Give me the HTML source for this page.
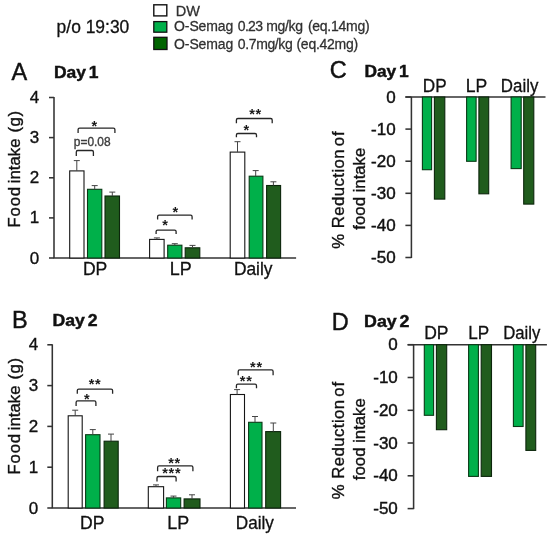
<!DOCTYPE html>
<html><head><meta charset="utf-8"><title>Food intake</title>
<style>
html,body{margin:0;padding:0;background:#fff;}
svg{display:block;font-family:"Liberation Sans",Arial,sans-serif;filter:blur(0.35px);}
</style></head><body>
<svg width="550" height="536" viewBox="0 0 550 536">
<rect width="550" height="536" fill="#fff"/>
<text x="56.6" y="32.9" font-size="18" text-anchor="start" fill="#111" stroke="#111" stroke-width="0.3" textLength="72.7" lengthAdjust="spacingAndGlyphs" >p/o 19:30</text>
<rect x="153.8" y="4.8" width="13" height="11.1" fill="#fff" stroke="#111" stroke-width="1.4"/>
<rect x="153.8" y="21.6" width="13" height="10.6" fill="#00b04a" stroke="#111" stroke-width="1.3"/>
<rect x="153.8" y="37.3" width="13.2" height="12.2" fill="#006400" stroke="#111" stroke-width="1.3"/>
<text x="175.8" y="15.7" font-size="14.5" text-anchor="start" fill="#303030" stroke="#303030" stroke-width="0.28" textLength="24.2" lengthAdjust="spacingAndGlyphs" >DW</text>
<text y="30.6" font-size="14" fill="#303030" stroke="#303030" stroke-width="0.28"><tspan x="174.09" letter-spacing="-0.124">O-Semag</tspan> <tspan x="237.8" letter-spacing="-0.695">0.23</tspan> <tspan x="266.32" letter-spacing="-0.373">mg/kg</tspan> <tspan x="307.88" letter-spacing="-0.246">(eq.14mg)</tspan></text>
<text y="48.7" font-size="14" fill="#303030" stroke="#303030" stroke-width="0.28"><tspan x="174.09" letter-spacing="-0.124">O-Semag</tspan> <tspan x="237.8" letter-spacing="-0.377">0.7mg/kg</tspan> <tspan x="296.48" letter-spacing="-0.259">(eq.42mg)</tspan></text>
<text x="11.5" y="80.1" font-size="23.5" text-anchor="start" fill="#111" stroke="#111" stroke-width="0.45" >A</text>
<text x="54" y="77.5" font-size="17" text-anchor="start" fill="#111" stroke="#111" stroke-width="0.45" font-weight="bold" textLength="44.5" lengthAdjust="spacingAndGlyphs" word-spacing="-2">Day 1</text>
<text x="12.0" y="328.0" font-size="23.5" text-anchor="start" fill="#111" stroke="#111" stroke-width="0.45" >B</text>
<text x="52.5" y="326.1" font-size="17" text-anchor="start" fill="#111" stroke="#111" stroke-width="0.45" font-weight="bold" textLength="45" lengthAdjust="spacingAndGlyphs" word-spacing="-2">Day 2</text>
<text x="329.8" y="78.3" font-size="23.5" text-anchor="start" fill="#111" stroke="#111" stroke-width="0.45" >C</text>
<text x="364.4" y="76.9" font-size="17" text-anchor="start" fill="#111" stroke="#111" stroke-width="0.45" font-weight="bold" textLength="44.3" lengthAdjust="spacingAndGlyphs" word-spacing="-2">Day 1</text>
<text x="331.8" y="330.3" font-size="23.5" text-anchor="start" fill="#111" stroke="#111" stroke-width="0.45" >D</text>
<text x="364" y="327.3" font-size="17" text-anchor="start" fill="#111" stroke="#111" stroke-width="0.45" font-weight="bold" textLength="45.5" lengthAdjust="spacingAndGlyphs" word-spacing="-2">Day 2</text>
<line x1="54.0" y1="97.0" x2="54.0" y2="258.0" stroke="#333" stroke-width="1.55"/>
<line x1="53.5" y1="258.0" x2="296.1" y2="258.0" stroke="#333" stroke-width="1.55"/>
<line x1="49.0" y1="258.0" x2="54.0" y2="258.0" stroke="#333" stroke-width="1.55"/>
<text x="39.2" y="263.5" font-size="17" text-anchor="end" fill="#111" stroke="#111" stroke-width="0.35" >0</text>
<line x1="49.0" y1="217.9" x2="54.0" y2="217.9" stroke="#333" stroke-width="1.55"/>
<text x="39.2" y="223.4" font-size="17" text-anchor="end" fill="#111" stroke="#111" stroke-width="0.35" >1</text>
<line x1="49.0" y1="177.8" x2="54.0" y2="177.8" stroke="#333" stroke-width="1.55"/>
<text x="39.2" y="183.3" font-size="17" text-anchor="end" fill="#111" stroke="#111" stroke-width="0.35" >2</text>
<line x1="49.0" y1="137.6" x2="54.0" y2="137.6" stroke="#333" stroke-width="1.55"/>
<text x="39.2" y="143.1" font-size="17" text-anchor="end" fill="#111" stroke="#111" stroke-width="0.35" >3</text>
<line x1="49.0" y1="97.5" x2="54.0" y2="97.5" stroke="#333" stroke-width="1.55"/>
<text x="39.2" y="103.0" font-size="17" text-anchor="end" fill="#111" stroke="#111" stroke-width="0.35" >4</text>
<rect x="69.7" y="170.9" width="14.3" height="87.1" fill="#ffffff" stroke="#151515" stroke-width="1.1"/>
<rect x="87.5" y="189.3" width="14.3" height="68.7" fill="#00b04a" stroke="#0a3a16" stroke-width="1.1"/>
<rect x="105.0" y="196.0" width="14.5" height="62.0" fill="#205c1d" stroke="#0c260c" stroke-width="1.1"/>
<rect x="149.6" y="239.4" width="14.5" height="18.6" fill="#ffffff" stroke="#151515" stroke-width="1.1"/>
<rect x="167.7" y="245.2" width="14.2" height="12.8" fill="#00b04a" stroke="#0a3a16" stroke-width="1.1"/>
<rect x="185.2" y="247.8" width="14.6" height="10.2" fill="#205c1d" stroke="#0c260c" stroke-width="1.1"/>
<rect x="230.2" y="152.1" width="14.6" height="105.9" fill="#ffffff" stroke="#151515" stroke-width="1.1"/>
<rect x="249.2" y="176.2" width="13.7" height="81.8" fill="#00b04a" stroke="#0a3a16" stroke-width="1.1"/>
<rect x="266.6" y="185.5" width="14.0" height="72.5" fill="#205c1d" stroke="#0c260c" stroke-width="1.1"/>
<line x1="76.8" y1="160.6" x2="76.8" y2="170.9" stroke="#444" stroke-width="1.0"/>
<line x1="73.8" y1="160.6" x2="79.8" y2="160.6" stroke="#444" stroke-width="1.0"/>
<line x1="94.7" y1="185.6" x2="94.7" y2="189.3" stroke="#444" stroke-width="1.0"/>
<line x1="91.7" y1="185.6" x2="97.7" y2="185.6" stroke="#444" stroke-width="1.0"/>
<line x1="112.3" y1="192.1" x2="112.3" y2="196.0" stroke="#444" stroke-width="1.0"/>
<line x1="109.3" y1="192.1" x2="115.3" y2="192.1" stroke="#444" stroke-width="1.0"/>
<line x1="156.9" y1="237.9" x2="156.9" y2="239.4" stroke="#444" stroke-width="1.0"/>
<line x1="153.9" y1="237.9" x2="159.9" y2="237.9" stroke="#444" stroke-width="1.0"/>
<line x1="174.8" y1="243.7" x2="174.8" y2="245.2" stroke="#444" stroke-width="1.0"/>
<line x1="171.8" y1="243.7" x2="177.8" y2="243.7" stroke="#444" stroke-width="1.0"/>
<line x1="192.5" y1="245.4" x2="192.5" y2="247.8" stroke="#444" stroke-width="1.0"/>
<line x1="189.5" y1="245.4" x2="195.5" y2="245.4" stroke="#444" stroke-width="1.0"/>
<line x1="237.5" y1="141.7" x2="237.5" y2="152.1" stroke="#444" stroke-width="1.0"/>
<line x1="234.5" y1="141.7" x2="240.5" y2="141.7" stroke="#444" stroke-width="1.0"/>
<line x1="255.7" y1="170.6" x2="255.7" y2="176.2" stroke="#444" stroke-width="1.0"/>
<line x1="252.7" y1="170.6" x2="258.7" y2="170.6" stroke="#444" stroke-width="1.0"/>
<line x1="273.4" y1="181.8" x2="273.4" y2="185.5" stroke="#444" stroke-width="1.0"/>
<line x1="270.4" y1="181.8" x2="276.4" y2="181.8" stroke="#444" stroke-width="1.0"/>
<text x="95.10000000000001" y="274.8" font-size="17.8" text-anchor="middle" fill="#111" stroke="#111" stroke-width="0.3" textLength="24.400000000000002" lengthAdjust="spacingAndGlyphs" >DP</text>
<text x="180.7" y="274.90000000000003" font-size="17.8" text-anchor="middle" fill="#111" stroke="#111" stroke-width="0.3" textLength="21.900000000000002" lengthAdjust="spacingAndGlyphs" >LP</text>
<text x="253.2" y="274.6" font-size="17.8" text-anchor="middle" fill="#111" stroke="#111" stroke-width="0.3" textLength="38.6" lengthAdjust="spacingAndGlyphs" >Daily</text>
<text y="0" transform="translate(20.3 0) rotate(-90)" font-size="16.8" fill="#111" stroke="#111" stroke-width="0.35"><tspan x="-227.43" letter-spacing="0.756">Food</tspan> <tspan x="-183.17" letter-spacing="-0.032">intake</tspan> <tspan x="-132.49" letter-spacing="0.476">(g)</tspan></text>
<path d="M76.3 155.9 V152.0 Q76.3 150.5 77.8 150.5 H91.9 Q93.4 150.5 93.4 152.0 V155.9" fill="none" stroke="#262626" stroke-width="1.3"/>
<path d="M78.1 132.9 V129.6 Q78.1 128.1 79.6 128.1 H113.4 Q114.9 128.1 114.9 129.6 V132.9" fill="none" stroke="#262626" stroke-width="1.3"/>
<text x="92.2" y="146.2" font-size="12" text-anchor="middle" fill="#3c3c3c" stroke="#3c3c3c" stroke-width="0.35" textLength="36.8" lengthAdjust="spacingAndGlyphs" >p=0.08</text>
<text x="94.8" y="130.6" font-size="14.5" text-anchor="middle" fill="#1a1a1a" stroke="#1a1a1a" stroke-width="0" font-weight="bold" letter-spacing="0.8">*</text>
<path d="M156.1 234.0 V231.6 Q156.1 230.1 157.6 230.1 H174.6 Q176.1 230.1 176.1 231.6 V234.0" fill="none" stroke="#262626" stroke-width="1.3"/>
<path d="M157.6 219.6 V216.7 Q157.6 215.2 159.1 215.2 H190.6 Q192.1 215.2 192.1 216.7 V219.6" fill="none" stroke="#262626" stroke-width="1.3"/>
<text x="165.4" y="229.9" font-size="14.5" text-anchor="middle" fill="#1a1a1a" stroke="#1a1a1a" stroke-width="0" font-weight="bold" letter-spacing="0.8">*</text>
<text x="175.7" y="217.3" font-size="14.5" text-anchor="middle" fill="#1a1a1a" stroke="#1a1a1a" stroke-width="0" font-weight="bold" letter-spacing="0.8">*</text>
<path d="M236.4 137.3 V135.0 Q236.4 133.5 237.9 133.5 H255.0 Q256.5 133.5 256.5 135.0 V137.3" fill="none" stroke="#262626" stroke-width="1.3"/>
<path d="M236.4 123.3 V120.0 Q236.4 118.5 237.9 118.5 H270.7 Q272.2 118.5 272.2 120.0 V123.3" fill="none" stroke="#262626" stroke-width="1.3"/>
<text x="246.7" y="135.2" font-size="14.5" text-anchor="middle" fill="#1a1a1a" stroke="#1a1a1a" stroke-width="0" font-weight="bold" letter-spacing="0.8">*</text>
<text x="255.6" y="119.1" font-size="14.5" text-anchor="middle" fill="#1a1a1a" stroke="#1a1a1a" stroke-width="0" font-weight="bold" letter-spacing="0.8">**</text>
<line x1="52.3" y1="344.3" x2="52.3" y2="508.0" stroke="#333" stroke-width="1.55"/>
<line x1="51.8" y1="508.0" x2="296.0" y2="508.0" stroke="#333" stroke-width="1.55"/>
<line x1="47.3" y1="508.0" x2="52.3" y2="508.0" stroke="#333" stroke-width="1.55"/>
<text x="38.3" y="513.5" font-size="17" text-anchor="end" fill="#111" stroke="#111" stroke-width="0.35" >0</text>
<line x1="47.3" y1="467.2" x2="52.3" y2="467.2" stroke="#333" stroke-width="1.55"/>
<text x="38.3" y="472.7" font-size="17" text-anchor="end" fill="#111" stroke="#111" stroke-width="0.35" >1</text>
<line x1="47.3" y1="426.4" x2="52.3" y2="426.4" stroke="#333" stroke-width="1.55"/>
<text x="38.3" y="431.9" font-size="17" text-anchor="end" fill="#111" stroke="#111" stroke-width="0.35" >2</text>
<line x1="47.3" y1="385.6" x2="52.3" y2="385.6" stroke="#333" stroke-width="1.55"/>
<text x="38.3" y="391.1" font-size="17" text-anchor="end" fill="#111" stroke="#111" stroke-width="0.35" >3</text>
<line x1="47.3" y1="344.8" x2="52.3" y2="344.8" stroke="#333" stroke-width="1.55"/>
<text x="38.3" y="350.3" font-size="17" text-anchor="end" fill="#111" stroke="#111" stroke-width="0.35" >4</text>
<rect x="68.2" y="415.8" width="14.0" height="92.2" fill="#ffffff" stroke="#151515" stroke-width="1.1"/>
<rect x="85.6" y="434.7" width="14.4" height="73.3" fill="#00b04a" stroke="#0a3a16" stroke-width="1.1"/>
<rect x="104.1" y="441.2" width="14.1" height="66.8" fill="#205c1d" stroke="#0c260c" stroke-width="1.1"/>
<rect x="148.3" y="486.7" width="15.3" height="21.3" fill="#ffffff" stroke="#151515" stroke-width="1.1"/>
<rect x="166.4" y="497.9" width="14.3" height="10.1" fill="#00b04a" stroke="#0a3a16" stroke-width="1.1"/>
<rect x="184.1" y="498.9" width="15.9" height="9.1" fill="#205c1d" stroke="#0c260c" stroke-width="1.1"/>
<rect x="230.4" y="394.5" width="14.1" height="113.5" fill="#ffffff" stroke="#151515" stroke-width="1.1"/>
<rect x="248.6" y="422.3" width="13.4" height="85.7" fill="#00b04a" stroke="#0a3a16" stroke-width="1.1"/>
<rect x="265.7" y="431.6" width="14.9" height="76.4" fill="#205c1d" stroke="#0c260c" stroke-width="1.1"/>
<line x1="75.2" y1="410.2" x2="75.2" y2="415.8" stroke="#444" stroke-width="1.0"/>
<line x1="72.2" y1="410.2" x2="78.2" y2="410.2" stroke="#444" stroke-width="1.0"/>
<line x1="92.8" y1="429.6" x2="92.8" y2="434.7" stroke="#444" stroke-width="1.0"/>
<line x1="89.8" y1="429.6" x2="95.8" y2="429.6" stroke="#444" stroke-width="1.0"/>
<line x1="111.0" y1="434.1" x2="111.0" y2="441.2" stroke="#444" stroke-width="1.0"/>
<line x1="108.0" y1="434.1" x2="114.0" y2="434.1" stroke="#444" stroke-width="1.0"/>
<line x1="156.0" y1="484.9" x2="156.0" y2="486.7" stroke="#444" stroke-width="1.0"/>
<line x1="153.0" y1="484.9" x2="159.0" y2="484.9" stroke="#444" stroke-width="1.0"/>
<line x1="173.5" y1="496.1" x2="173.5" y2="497.9" stroke="#444" stroke-width="1.0"/>
<line x1="170.5" y1="496.1" x2="176.5" y2="496.1" stroke="#444" stroke-width="1.0"/>
<line x1="192.0" y1="494.8" x2="192.0" y2="498.9" stroke="#444" stroke-width="1.0"/>
<line x1="189.0" y1="494.8" x2="195.0" y2="494.8" stroke="#444" stroke-width="1.0"/>
<line x1="237.1" y1="389.6" x2="237.1" y2="394.5" stroke="#444" stroke-width="1.0"/>
<line x1="234.1" y1="389.6" x2="240.1" y2="389.6" stroke="#444" stroke-width="1.0"/>
<line x1="255.0" y1="416.5" x2="255.0" y2="422.3" stroke="#444" stroke-width="1.0"/>
<line x1="252.0" y1="416.5" x2="258.0" y2="416.5" stroke="#444" stroke-width="1.0"/>
<line x1="273.3" y1="423.0" x2="273.3" y2="431.6" stroke="#444" stroke-width="1.0"/>
<line x1="270.3" y1="423.0" x2="276.3" y2="423.0" stroke="#444" stroke-width="1.0"/>
<text x="92.3" y="529.1" font-size="17.8" text-anchor="middle" fill="#111" stroke="#111" stroke-width="0.3" textLength="24.400000000000002" lengthAdjust="spacingAndGlyphs" >DP</text>
<text x="178.2" y="529.3000000000001" font-size="17.8" text-anchor="middle" fill="#111" stroke="#111" stroke-width="0.3" textLength="21.900000000000002" lengthAdjust="spacingAndGlyphs" >LP</text>
<text x="254.79999999999998" y="529.0" font-size="17.8" text-anchor="middle" fill="#111" stroke="#111" stroke-width="0.3" textLength="38.1" lengthAdjust="spacingAndGlyphs" >Daily</text>
<text y="0" transform="translate(20.3 0) rotate(-90)" font-size="16.8" fill="#111" stroke="#111" stroke-width="0.35"><tspan x="-474.43" letter-spacing="0.756">Food</tspan> <tspan x="-430.17" letter-spacing="-0.032">intake</tspan> <tspan x="-379.49" letter-spacing="0.476">(g)</tspan></text>
<path d="M76.1 405.9 V402.4 Q76.1 400.9 77.6 400.9 H94.4 Q95.9 400.9 95.9 402.4 V405.9" fill="none" stroke="#262626" stroke-width="1.3"/>
<path d="M77.3 393.7 V390.6 Q77.3 389.1 78.8 389.1 H111.1 Q112.6 389.1 112.6 390.6 V393.7" fill="none" stroke="#262626" stroke-width="1.3"/>
<text x="87.3" y="404.1" font-size="14.5" text-anchor="middle" fill="#1a1a1a" stroke="#1a1a1a" stroke-width="0" font-weight="bold" letter-spacing="0.8">*</text>
<text x="95.1" y="389.2" font-size="14.5" text-anchor="middle" fill="#1a1a1a" stroke="#1a1a1a" stroke-width="0" font-weight="bold" letter-spacing="0.8">**</text>
<path d="M157.0 481.5 V478.0 Q157.0 476.5 158.5 476.5 H174.6 Q176.1 476.5 176.1 478.0 V481.5" fill="none" stroke="#262626" stroke-width="1.3"/>
<path d="M157.6 471.2 V467.4 Q157.6 465.9 159.1 465.9 H191.4 Q192.9 465.9 192.9 467.4 V471.2" fill="none" stroke="#262626" stroke-width="1.3"/>
<text x="171.8" y="478.2" font-size="14.5" text-anchor="middle" fill="#1a1a1a" stroke="#1a1a1a" stroke-width="0" font-weight="bold" letter-spacing="0.8">***</text>
<text x="174.6" y="468.1" font-size="14.5" text-anchor="middle" fill="#1a1a1a" stroke="#1a1a1a" stroke-width="0" font-weight="bold" letter-spacing="0.8">**</text>
<path d="M236.4 388.3 V385.7 Q236.4 384.2 237.9 384.2 H255.0 Q256.5 384.2 256.5 385.7 V388.3" fill="none" stroke="#262626" stroke-width="1.3"/>
<path d="M238.2 375.2 V371.4 Q238.2 369.9 239.7 369.9 H271.6 Q273.1 369.9 273.1 371.4 V375.2" fill="none" stroke="#262626" stroke-width="1.3"/>
<text x="246.3" y="385.5" font-size="14.5" text-anchor="middle" fill="#1a1a1a" stroke="#1a1a1a" stroke-width="0" font-weight="bold" letter-spacing="0.8">**</text>
<text x="256.4" y="372.1" font-size="14.5" text-anchor="middle" fill="#1a1a1a" stroke="#1a1a1a" stroke-width="0" font-weight="bold" letter-spacing="0.8">**</text>
<line x1="411.4" y1="97.0" x2="411.4" y2="258.0" stroke="#333" stroke-width="1.55"/>
<line x1="405.4" y1="97.0" x2="545.5" y2="97.0" stroke="#333" stroke-width="1.55"/>
<line x1="405.4" y1="97.0" x2="411.4" y2="97.0" stroke="#333" stroke-width="1.55"/>
<text x="395.59999999999997" y="102.6" font-size="17" text-anchor="end" fill="#111" stroke="#111" stroke-width="0.45" >0</text>
<line x1="405.4" y1="129.1" x2="411.4" y2="129.1" stroke="#333" stroke-width="1.55"/>
<text x="395.59999999999997" y="134.7" font-size="17" text-anchor="end" fill="#111" stroke="#111" stroke-width="0.45" >-10</text>
<line x1="405.4" y1="161.2" x2="411.4" y2="161.2" stroke="#333" stroke-width="1.55"/>
<text x="395.59999999999997" y="166.8" font-size="17" text-anchor="end" fill="#111" stroke="#111" stroke-width="0.45" >-20</text>
<line x1="405.4" y1="193.3" x2="411.4" y2="193.3" stroke="#333" stroke-width="1.55"/>
<text x="395.59999999999997" y="198.9" font-size="17" text-anchor="end" fill="#111" stroke="#111" stroke-width="0.45" >-30</text>
<line x1="405.4" y1="225.4" x2="411.4" y2="225.4" stroke="#333" stroke-width="1.55"/>
<text x="395.59999999999997" y="231.0" font-size="17" text-anchor="end" fill="#111" stroke="#111" stroke-width="0.45" >-40</text>
<line x1="405.4" y1="257.5" x2="411.4" y2="257.5" stroke="#333" stroke-width="1.55"/>
<text x="395.59999999999997" y="263.1" font-size="17" text-anchor="end" fill="#111" stroke="#111" stroke-width="0.45" >-50</text>
<rect x="422.4" y="97.0" width="9.2" height="72.7" fill="#00b04a" stroke="#0a3a16" stroke-width="1.1"/>
<rect x="434.4" y="97.0" width="10.4" height="102.1" fill="#205c1d" stroke="#0c260c" stroke-width="1.1"/>
<rect x="466.6" y="97.0" width="9.5" height="64.3" fill="#00b04a" stroke="#0a3a16" stroke-width="1.1"/>
<rect x="478.9" y="97.0" width="9.8" height="96.8" fill="#205c1d" stroke="#0c260c" stroke-width="1.1"/>
<rect x="511.1" y="97.0" width="10.1" height="71.6" fill="#00b04a" stroke="#0a3a16" stroke-width="1.1"/>
<rect x="523.7" y="97.0" width="10.1" height="107.1" fill="#205c1d" stroke="#0c260c" stroke-width="1.1"/>
<text x="434.7" y="91.6" font-size="17.5" text-anchor="middle" fill="#111" stroke="#111" stroke-width="0.3" textLength="23.8" lengthAdjust="spacingAndGlyphs" >DP</text>
<text x="476.5" y="91.6" font-size="17.5" text-anchor="middle" fill="#111" stroke="#111" stroke-width="0.3" textLength="21.5" lengthAdjust="spacingAndGlyphs" >LP</text>
<text x="519.6" y="91.6" font-size="17.5" text-anchor="middle" fill="#111" stroke="#111" stroke-width="0.3" textLength="37.5" lengthAdjust="spacingAndGlyphs" >Daily</text>
<text y="0" transform="translate(343.7 0) rotate(-90)" font-size="16.8" fill="#111" stroke="#111" stroke-width="0.35"><tspan x="-248.85" letter-spacing="0">%</tspan> <tspan x="-228.33" letter-spacing="0.427">Reduction</tspan> <tspan x="-146.36" letter-spacing="0.97">of</tspan></text>
<text y="0" transform="translate(364.8 0) rotate(-90)" font-size="16.8" fill="#111" stroke="#111" stroke-width="0.35"><tspan x="-229.79" letter-spacing="0.074">food</tspan> <tspan x="-192.37" letter-spacing="-0.032">intake</tspan></text>
<line x1="413.6" y1="344.7" x2="413.6" y2="509.1" stroke="#333" stroke-width="1.55"/>
<line x1="407.6" y1="344.7" x2="546.9" y2="344.7" stroke="#333" stroke-width="1.55"/>
<line x1="407.6" y1="344.7" x2="413.6" y2="344.7" stroke="#333" stroke-width="1.55"/>
<text x="397.8" y="350.3" font-size="17" text-anchor="end" fill="#111" stroke="#111" stroke-width="0.45" >0</text>
<line x1="407.6" y1="377.5" x2="413.6" y2="377.5" stroke="#333" stroke-width="1.55"/>
<text x="397.8" y="383.1" font-size="17" text-anchor="end" fill="#111" stroke="#111" stroke-width="0.45" >-10</text>
<line x1="407.6" y1="410.3" x2="413.6" y2="410.3" stroke="#333" stroke-width="1.55"/>
<text x="397.8" y="415.9" font-size="17" text-anchor="end" fill="#111" stroke="#111" stroke-width="0.45" >-20</text>
<line x1="407.6" y1="443.0" x2="413.6" y2="443.0" stroke="#333" stroke-width="1.55"/>
<text x="397.8" y="448.6" font-size="17" text-anchor="end" fill="#111" stroke="#111" stroke-width="0.45" >-30</text>
<line x1="407.6" y1="475.8" x2="413.6" y2="475.8" stroke="#333" stroke-width="1.55"/>
<text x="397.8" y="481.4" font-size="17" text-anchor="end" fill="#111" stroke="#111" stroke-width="0.45" >-40</text>
<line x1="407.6" y1="508.6" x2="413.6" y2="508.6" stroke="#333" stroke-width="1.55"/>
<text x="397.8" y="514.2" font-size="17" text-anchor="end" fill="#111" stroke="#111" stroke-width="0.45" >-50</text>
<rect x="424.3" y="344.7" width="9.3" height="70.6" fill="#00b04a" stroke="#0a3a16" stroke-width="1.1"/>
<rect x="436.4" y="344.7" width="10.3" height="85.0" fill="#205c1d" stroke="#0c260c" stroke-width="1.1"/>
<rect x="468.6" y="344.7" width="9.8" height="131.7" fill="#00b04a" stroke="#0a3a16" stroke-width="1.1"/>
<rect x="481.2" y="344.7" width="10.3" height="131.7" fill="#205c1d" stroke="#0c260c" stroke-width="1.1"/>
<rect x="513.4" y="344.7" width="9.7" height="81.8" fill="#00b04a" stroke="#0a3a16" stroke-width="1.1"/>
<rect x="525.9" y="344.7" width="9.8" height="105.7" fill="#205c1d" stroke="#0c260c" stroke-width="1.1"/>
<text x="436.3" y="339.2" font-size="17.5" text-anchor="middle" fill="#111" stroke="#111" stroke-width="0.3" textLength="24.3" lengthAdjust="spacingAndGlyphs" >DP</text>
<text x="478.6" y="339.2" font-size="17.5" text-anchor="middle" fill="#111" stroke="#111" stroke-width="0.3" textLength="20.900000000000002" lengthAdjust="spacingAndGlyphs" >LP</text>
<text x="521.7" y="339.2" font-size="17.5" text-anchor="middle" fill="#111" stroke="#111" stroke-width="0.3" textLength="37.099999999999994" lengthAdjust="spacingAndGlyphs" >Daily</text>
<text y="0" transform="translate(343.7 0) rotate(-90)" font-size="16.8" fill="#111" stroke="#111" stroke-width="0.35"><tspan x="-499.35" letter-spacing="0">%</tspan> <tspan x="-478.83" letter-spacing="0.427">Reduction</tspan> <tspan x="-396.86" letter-spacing="0.97">of</tspan></text>
<text y="0" transform="translate(364.8 0) rotate(-90)" font-size="16.8" fill="#111" stroke="#111" stroke-width="0.35"><tspan x="-480.29" letter-spacing="0.074">food</tspan> <tspan x="-442.87" letter-spacing="-0.032">intake</tspan></text>
</svg>
</body></html>
